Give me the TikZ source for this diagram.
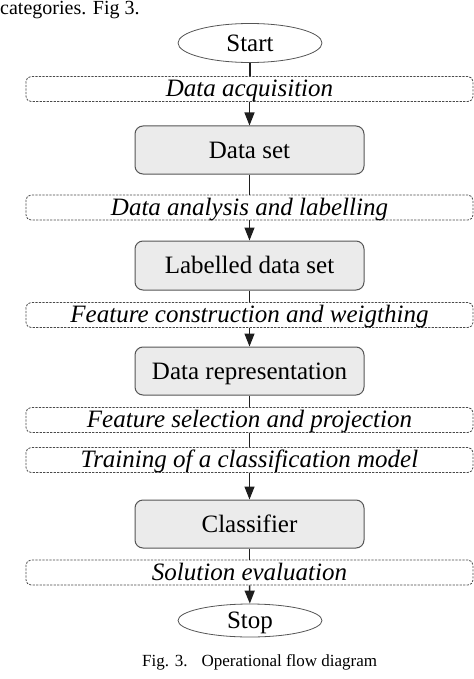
\documentclass[tikz,border=0pt]{standalone}
\usepackage{fontspec}
\setmainfont{Liberation Serif}
\usetikzlibrary{shapes.geometric,arrows.meta}
\definecolor{boxfill}{HTML}{EBEBEB}
\definecolor{boxline}{HTML}{555555}
\definecolor{dotline}{HTML}{4A4A4A}
\definecolor{inkline}{HTML}{1E1E1E}
\tikzset{
  bigfont/.style={font=\fontsize{25bp}{30bp}\selectfont},
  stepline/.style={draw=dotline, line width=0.8bp, dash pattern=on 2.2bp off 1.3bp,
    rounded corners=5bp, minimum width=447bp, minimum height=25bp, inner sep=0pt,
    text height=20bp, text depth=5bp, font=\fontsize{25bp}{30bp}\selectfont\itshape},
  statebox/.style={draw=boxline, fill=boxfill, line width=1bp, rounded corners=8bp,
    minimum width=229bp, minimum height=48bp, inner sep=0pt,
    text height=16.5bp, text depth=0bp, bigfont},
  termnode/.style={ellipse, draw=boxline, line width=0.8bp, minimum width=144bp,
    inner sep=0pt, text height=16.5bp, text depth=0bp, bigfont},
  flow/.style={draw=inkline, line width=1.4bp},
  flowarrow/.style={flow, -{Triangle[length=13bp,width=10bp]}}
}
\begin{document}
\begin{tikzpicture}[x=1bp,y=-1bp]
\useasboundingbox (0,0) rectangle (474,679);
\node[anchor=base west, inner sep=0pt, font=\fontsize{20bp}{24bp}\selectfont] (toptext) at (0,15) {categories. Fig 3.};

\node[termnode, minimum height=39bp] (start) at (250,43) {Start};
\node[stepline] (s1) at (249.5,89) {Data acquisition};
\node[statebox] (dataset) at (249.5,150) {Data set};
\node[stepline] (s2) at (249.5,207.5) {Data analysis and labelling};
\node[statebox, minimum height=49bp] (labelled) at (249.5,265.5) {Labelled data set};
\node[stepline] (s3) at (249.5,315) {Feature construction and weigthing};
\node[statebox] (datarep) at (249.5,371) {Data representation};
\node[stepline] (s4) at (249.5,420) {Feature selection and projection};
\node[stepline] (s5) at (249.5,460) {Training of a classification model};
\node[statebox] (classifier) at (249.5,524) {Classifier};
\node[stepline] (s6) at (249.5,572.5) {Solution evaluation};
\node[termnode, minimum height=33bp] (stop) at (250,620.5) {Stop};

\node[anchor=base west, inner sep=0pt, font=\fontsize{17bp}{20bp}\selectfont] (caption) at (142,666) {Fig. 3.\hspace{14bp}Operational flow diagram};

\path[flow] (start) -- (start |- s1.north);
\path[flowarrow] (s1) -- (dataset);
\path[flow] (dataset) -- (s2);
\path[flowarrow] (s2) -- (labelled);
\path[flow] (labelled) -- (s3);
\path[flowarrow] (s3) -- (datarep);
\path[flow] (datarep) -- (s4);
\path[flow] (s4) -- (s5);
\path[flowarrow] (s5) -- (classifier);
\path[flow] (classifier) -- (s6);
\path[flowarrow] (s6) -- (stop);
\end{tikzpicture}
\end{document}
